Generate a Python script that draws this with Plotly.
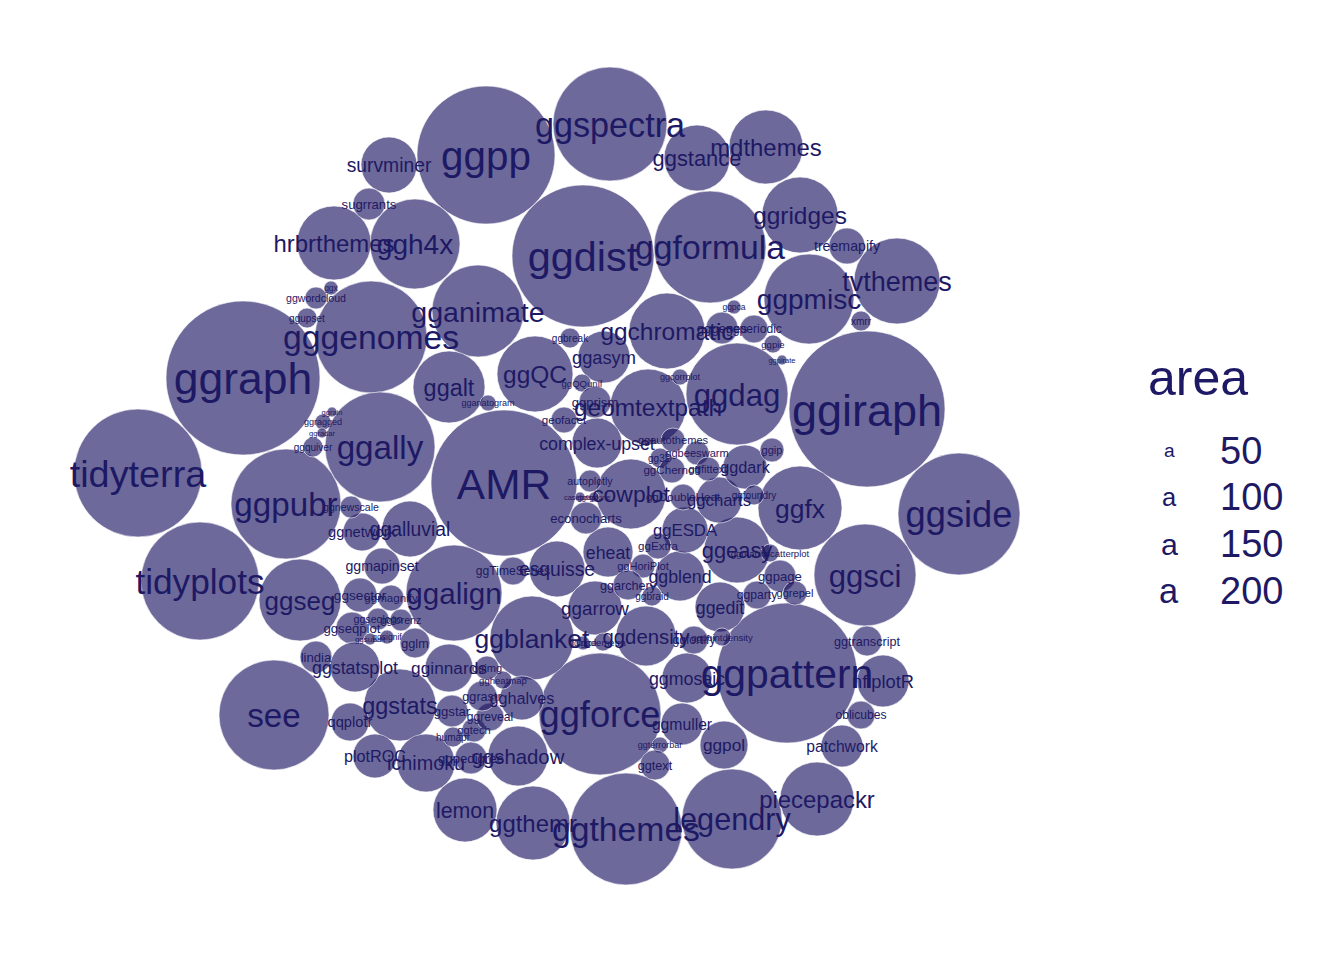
import numpy as np
import plotly.graph_objects as go

# packed-circle layout: package names, centres and radii (layout units)
labels = [
    "ggiraph", "ggpattern", "ggraph", "AMR", "ggdist", "ggpp", "ggspectra", "ggforce",
    "ggthemes", "tidyterra", "tidyplots", "ggside", "see", "ggformula", "legendry", "ggsci",
    "ggpubr", "gggenomes", "ggally", "ggalign", "ggdag", "ggblanket", "ggchromatic", "gganimate",
    "ggpmisc", "ggh4x", "ggstats", "ggfx", "geomtextpath", "cowplot", "ggpol", "piecepackr",
    "ggthemr", "ggshadow", "tvthemes", "ggridges", "mdthemes", "ggstance", "survminer", "hrbrthemes",
    "ggseg", "ggalt", "ggQC", "esquisse", "eheat", "ggeasy", "ggblend", "ggarrow",
    "ggdensity", "ggmosaic", "ggmuller", "ggedit", "ggESDA", "ggcharts", "ggdark", "complex-upset",
    "econocharts", "autoplotly", "ggnetwork", "ggalluvial", "ggmapinset", "ggsector", "ggmagnify", "ggseqplot",
    "ggseqlogo", "gglorenz", "ggsurvfit", "ggsignif", "gglm", "lindia", "ggstatsplot", "gginnards",
    "qqplotr", "ggstar", "plotROC", "ichimoku", "lemon", "ggpedigree", "humapr", "ggtech",
    "ggreveal", "ggrastr", "gghalves", "ggheatmap", "ggimg", "ggTimeSeries", "ggbreak", "ggasym",
    "ggQQunif", "ggcorrplot", "geofacet", "ggprism", "ggautothemes", "ggbeeswarm", "gg3D", "ggChernoff",
    "ggfittext", "ggDoubleHeat", "ggfoundry", "ggip", "ggExtra", "ggHoriPlot", "ggarchery", "ggbraid",
    "ggmanhscatterplot", "ggpage", "ggparty", "ggrepel", "ggtranscript", "nflplotR", "oblicubes", "patchwork",
    "ggpointdensity", "ggfortify", "ggterrorbar", "ggtext", "ggmice", "ggdemetra", "sugrrants", "ggx",
    "ggwordcloud", "ggupset", "ggrain", "ggragged", "ggradar", "ggquiver", "ggnewscale", "gganatogram",
    "ggpca", "gggenes", "ggperiodic", "ggpie", "ggpirate", "xmrr", "treemapify", "casebase",
    "ggfigdone",
]
cx = [
    867, 787, 243, 504, 583, 486, 610, 600,
    626, 138, 200, 959, 274, 710, 732, 865,
    286, 371, 380, 454, 737, 532, 667, 478,
    809, 415, 400, 800, 648, 631, 724, 817,
    533, 518, 897, 800, 766, 697, 389, 334,
    300, 449, 535, 557, 608, 737, 680, 595,
    646, 687, 682, 720, 685, 719, 745, 597,
    586, 590, 362, 410, 382, 360, 391, 352,
    378, 401, 370, 387, 415, 316, 355, 449,
    350, 452, 375, 426, 465, 471, 453, 474,
    490, 482, 522, 503, 487, 513, 570, 604,
    582, 680, 564, 595, 673, 697, 660, 672,
    708, 683, 754, 772, 658, 643, 628, 652,
    770, 780, 757, 795, 867, 883, 861, 842,
    722, 694, 660, 655, 583, 603, 369, 331,
    316, 307, 332, 323, 322, 313, 351, 488,
    734, 722, 754, 773, 782, 861, 847, 580,
    594,
]
cy = [
    409, 673, 378, 483, 256, 155, 124, 714,
    829, 473, 581, 514, 715, 247, 819, 575,
    504, 337, 447, 593, 394, 638, 331, 311,
    299, 244, 705, 508, 407, 494, 745, 799,
    823, 756, 281, 215, 147, 158, 165, 243,
    600, 387, 374, 569, 552, 550, 576, 608,
    636, 678, 724, 607, 530, 500, 467, 443,
    518, 481, 532, 529, 566, 595, 598, 628,
    619, 620, 639, 637, 643, 657, 667, 668,
    722, 711, 756, 763, 810, 758, 737, 730,
    717, 696, 698, 680, 668, 571, 338, 357,
    383, 377, 420, 402, 440, 453, 458, 470,
    469, 497, 495, 450, 546, 566, 585, 596,
    553, 576, 595, 593, 641, 681, 715, 746,
    637, 640, 745, 765, 643, 642, 204, 288,
    298, 318, 412, 422, 433, 447, 507, 403,
    307, 328, 329, 344, 360, 321, 246, 497,
    497,
]
radius = [
    78, 70, 77, 73, 71, 69, 57, 61,
    56, 64, 59, 61, 55, 56, 50, 51,
    55, 56, 55, 48, 51, 42, 38, 46,
    45, 45, 36, 42, 38, 35, 24, 37,
    37, 30, 43, 38, 37, 33, 28, 37,
    41, 36, 38, 28, 25, 33, 25, 27,
    30, 25, 21, 25, 23, 23, 22, 25,
    16, 11, 19, 28, 18, 17, 13, 16,
    11, 11, 6, 7, 15, 16, 25, 24,
    19, 16, 22, 29, 32, 16, 10, 12,
    14, 15, 22, 9, 12, 14, 10, 26,
    9, 8, 13, 16, 12, 12, 10, 13,
    12, 13, 10, 12, 13, 12, 15, 10,
    9, 16, 14, 12, 15, 26, 14, 21,
    9, 14, 8, 15, 7, 9, 16, 7,
    11, 10, 5, 8, 5, 10, 11, 8,
    7, 16, 14, 9, 5, 10, 18, 5,
    5,
]

legend_breaks = [50, 100, 150, 200]

fill_col = "rgba(30,25,100,0.65)"
text_col = "rgb(30,25,100)"
font = "Liberation Sans, Arial, Helvetica, sans-serif"

r = np.array(radius, dtype=float)
unit = 9.3  # layout units per sqrt(area) unit
area = np.pi * (r / unit) ** 2

# size scale like scale_size(): linear in sqrt(area), range of font px
amin, amax = area.min(), area.max()
fmin, fmax = 7.5, 45.0


def text_px(a):
    s = (np.sqrt(a) - np.sqrt(amin)) / (np.sqrt(amax) - np.sqrt(amin))
    return fmin + (fmax - fmin) * s


sizes = text_px(area)
# plotly centres text a bit higher than grid does; nudge down by a fraction of the font
text_y = np.array(cy, dtype=float) + 0.12 * sizes

fig = go.Figure()

shapes = []
for x, y, rr in zip(cx, cy, radius):
    shapes.append(dict(type="circle", xref="x", yref="y",
                       x0=x - rr, x1=x + rr, y0=y - rr, y1=y + rr,
                       fillcolor=fill_col, line=dict(color="white", width=0.6),
                       layer="below"))

fig.add_trace(go.Scatter(
    x=cx, y=text_y, mode="text", text=labels,
    textfont=dict(family=font, size=list(sizes), color=text_col),
    hoverinfo="text", showlegend=False, cliponaxis=False,
))

# size legend
ann = [dict(text="area", xref="paper", yref="paper", x=1146 / 1344, y=1 - 378 / 960,
            xanchor="left", yanchor="middle", showarrow=False,
            font=dict(family=font, size=50, color=text_col))]
for i, b in enumerate(legend_breaks):
    yy = 1 - (451 + i * 46.5) / 960
    ann.append(dict(text="a", xref="paper", yref="paper", x=1169 / 1344, y=yy,
                    xanchor="center", yanchor="middle", showarrow=False,
                    font=dict(family=font, size=float(text_px(b)) * 0.8, color=text_col)))
    ann.append(dict(text=str(b), xref="paper", yref="paper", x=1218 / 1344, y=yy,
                    xanchor="left", yanchor="middle", showarrow=False,
                    font=dict(family=font, size=38, color=text_col)))

fig.update_layout(
    width=1344, height=960, autosize=False,
    margin=dict(l=0, r=0, t=0, b=0),
    paper_bgcolor="white", plot_bgcolor="white",
    shapes=shapes, annotations=ann,
    xaxis=dict(range=[0, 1344], visible=False, fixedrange=True),
    yaxis=dict(range=[960, 0], visible=False, fixedrange=True),
)

fig.write_html("out.html", config={"displayModeBar": False},
               post_script="document.body.style.margin='0';")
